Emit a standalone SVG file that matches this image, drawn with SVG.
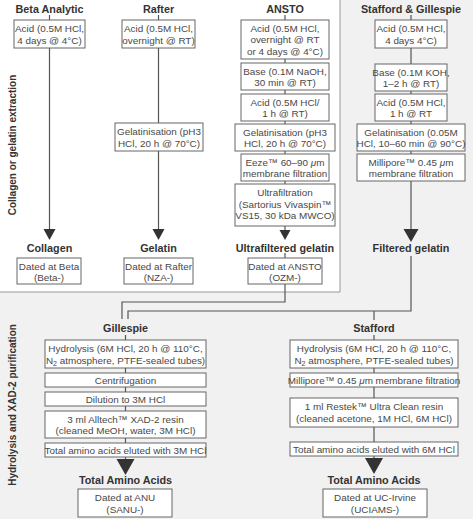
<svg xmlns="http://www.w3.org/2000/svg" width="474" height="522" viewBox="0 0 474 522">
<style>
.bx{fill:#fff;stroke:#666;stroke-width:1}
.t{font-family:"Liberation Sans",Arial,sans-serif;font-size:9.9px;fill:#484848;text-anchor:middle}
.h{font-family:"Liberation Sans",Arial,sans-serif;font-size:10.8px;font-weight:bold;fill:#333;text-anchor:middle}
.side{font-family:"Liberation Sans",Arial,sans-serif;font-size:10px;font-weight:bold;fill:#333;text-anchor:middle}
.ln{fill:none;stroke:#555;stroke-width:1.2}
.ah{fill:#333;stroke:none}
.it{font-style:italic}
</style>
<rect x="0" y="0" width="473" height="519" fill="#f1f1f1"/>
<rect x="0" y="0" width="340" height="292" fill="#fff"/>
<path d="M340 0 V292 H0" fill="none" stroke="#999" stroke-width="1"/>
<text class="side" transform="translate(15.5 145) rotate(-90)">Collagen or gelatin extraction</text>
<text class="side" transform="translate(15.5 405) rotate(-90)">Hydrolysis and XAD-2 purification</text>

<g id="connectors">
<path class="ln" d="M49.5 15 V20 M49.5 48 V229"/>
<path class="ah" d="M43.5 229 H55.5 L49.5 240 Z"/>
<path class="ln" d="M158.5 15 V20 M158.5 48 V123 M158.5 151 V229"/>
<path class="ah" d="M152.5 229 H164.5 L158.5 240 Z"/>
<path class="ln" d="M285 15 V20 M285 59 V63 M285 90 V94 M285 121 V124 M285 151 V154 M285 181 V184 M285 226 V230"/>
<path class="ah" d="M279.5 230 H290.5 L285 240 Z"/>
<path class="ln" d="M285 253 V258"/>
<path class="ln" d="M411 15 V20 M411 48 V64 M411 91 V94 M411 121 V124 M411 151 V154 M411 181 V229"/>
<path class="ah" d="M403.5 229 H418.5 L411 242 Z"/>
<path class="ln" d="M285 284 V302 H122 V319"/>
<path class="ln" d="M411 256 V311 H128 V319 M374 311 V320"/>
<path class="ln" d="M125.5 335 V340 M125.5 368 V373 M125.5 387 V392 M125.5 406 V411 M125.5 438 V443 M125.5 457 V459"/>
<path class="ah" d="M116.5 459 H134.5 L125.5 475 Z"/>
<path class="ln" d="M374 335 V340 M374 368 V373 M374 387 V398 M374 427 V442 M374 456 V458"/>
<path class="ah" d="M365 458 H383 L374 474 Z"/>
</g>

<g id="beta">
<text class="h" x="49.5" y="12.5">Beta Analytic</text>
<rect class="bx" x="14" y="20" width="71" height="28"/>
<text class="t" x="49.5" y="32">Acid (0.5M HCl,</text>
<text class="t" x="49.5" y="43.5">4 days @ 4°C)</text>
<text class="h" x="49.5" y="252">Collagen</text>
<rect class="bx" x="17" y="258" width="64" height="26"/>
<text class="t" x="49" y="269.5">Dated at Beta</text>
<text class="t" x="49" y="281">(Beta-)</text>
</g>

<g id="rafter">
<text class="h" x="158.5" y="12.5">Rafter</text>
<rect class="bx" x="122" y="20" width="73" height="28"/>
<text class="t" x="158.5" y="32">Acid (0.5M HCl,</text>
<text class="t" x="158.5" y="43.5">overnight @ RT)</text>
<rect class="bx" x="115" y="123" width="88" height="28"/>
<text class="t" x="159" y="135">Gelatinisation (pH3</text>
<text class="t" x="159" y="146.5">HCl, 20 h @ 70°C)</text>
<text class="h" x="158.5" y="252">Gelatin</text>
<rect class="bx" x="124" y="258" width="69" height="26"/>
<text class="t" x="158.5" y="269.5">Dated at Rafter</text>
<text class="t" x="158.5" y="281">(NZA-)</text>
</g>

<g id="ansto">
<text class="h" x="285" y="12.5">ANSTO</text>
<rect class="bx" x="241" y="20" width="88" height="39"/>
<text class="t" x="285" y="31.5">Acid (0.5M HCl,</text>
<text class="t" x="285" y="43">overnight @ RT</text>
<text class="t" x="285" y="54.5">or 4 days @ 4°C)</text>
<rect class="bx" x="241" y="63" width="88" height="27"/>
<text class="t" x="285" y="74.5">Base (0.1M NaOH,</text>
<text class="t" x="285" y="86">30 min @ RT)</text>
<rect class="bx" x="241" y="94" width="88" height="27"/>
<text class="t" x="285" y="105.5">Acid (0.5M HCl/</text>
<text class="t" x="285" y="117">1 h @ RT)</text>
<rect class="bx" x="235" y="124" width="100" height="27"/>
<text class="t" x="285" y="135.5">Gelatinisation (pH3</text>
<text class="t" x="285" y="147">HCl, 20 h @ 70°C)</text>
<rect class="bx" x="241" y="154" width="88" height="27"/>
<text class="t" x="285" y="165.5">Eeze™ 60–90 <tspan class="it">μ</tspan>m</text>
<text class="t" x="285" y="177">membrane filtration</text>
<rect class="bx" x="235" y="184" width="100" height="42"/>
<text class="t" x="285" y="196">Ultrafiltration</text>
<text class="t" x="285" y="207.5">(Sartorius Vivaspin™</text>
<text class="t" x="285" y="219">VS15, 30 kDa MWCO)</text>
<text class="h" x="285" y="252">Ultrafiltered gelatin</text>
<rect class="bx" x="248" y="258" width="74" height="26"/>
<text class="t" x="285" y="269.5">Dated at ANSTO</text>
<text class="t" x="285" y="281">(OZM-)</text>
</g>

<g id="stafford-gillespie">
<text class="h" x="411" y="12.5">Stafford &amp; Gillespie</text>
<rect class="bx" x="375" y="20" width="72" height="28"/>
<text class="t" x="411" y="32">Acid (0.5M HCl,</text>
<text class="t" x="411" y="43.5">4 days 4°C)</text>
<rect class="bx" x="375" y="64" width="72" height="27"/>
<text class="t" x="411" y="75.5">Base (0.1M KOH,</text>
<text class="t" x="411" y="87">1–2 h @  RT)</text>
<rect class="bx" x="375" y="94" width="72" height="27"/>
<text class="t" x="411" y="105.5">Acid (0.5M HCl,</text>
<text class="t" x="411" y="117">1 h @ RT</text>
<rect class="bx" x="357" y="124" width="108" height="27"/>
<text class="t" x="411" y="135.5">Gelatinisation (0.05M</text>
<text class="t" x="411" y="147">HCl, 10–60 min @ 90°C)</text>
<rect class="bx" x="357" y="154" width="108" height="27"/>
<text class="t" x="411" y="165.5">Millipore™ 0.45 <tspan class="it">μ</tspan>m</text>
<text class="t" x="411" y="177">membrane filtration</text>
<text class="h" x="411" y="252">Filtered gelatin</text>
</g>

<g id="gillespie">
<text class="h" x="125.5" y="332">Gillespie</text>
<rect class="bx" x="45" y="340" width="161" height="28"/>
<text class="t" x="125.5" y="352">Hydrolysis (6M HCl, 20 h @ 110°C,</text>
<text class="t" x="125.5" y="363.5">N<tspan font-size="7" dy="2">2</tspan><tspan dy="-2"> atmosphere, PTFE-sealed tubes)</tspan></text>
<rect class="bx" x="45" y="373" width="161" height="14"/>
<text class="t" x="125.5" y="383.5">Centrifugation</text>
<rect class="bx" x="45" y="392" width="161" height="14"/>
<text class="t" x="125.5" y="402.5">Dilution to 3M HCl</text>
<rect class="bx" x="45" y="411" width="161" height="27"/>
<text class="t" x="125.5" y="422.5">3 ml Alltech™ XAD-2 resin</text>
<text class="t" x="125.5" y="434">(cleaned MeOH, water, 3M HCl)</text>
<rect class="bx" x="45" y="443" width="161" height="14"/>
<text class="t" x="125.5" y="453.5">Total amino acids eluted with 3M HCl</text>
<text class="h" x="125.5" y="484">Total Amino Acids</text>
<rect class="bx" x="78" y="489" width="94" height="28"/>
<text class="t" x="125" y="501">Dated at ANU</text>
<text class="t" x="125" y="512.5">(SANU-)</text>
</g>

<g id="stafford">
<text class="h" x="374" y="332">Stafford</text>
<rect class="bx" x="290" y="340" width="168" height="28"/>
<text class="t" x="374" y="352">Hydrolysis (6M HCl, 20 h @ 110°C,</text>
<text class="t" x="374" y="363.5">N<tspan font-size="7" dy="2">2</tspan><tspan dy="-2"> atmosphere, PTFE-sealed tubes)</tspan></text>
<rect class="bx" x="290" y="373" width="168" height="14"/>
<text class="t" x="374" y="383.5">Millipore™ 0.45 <tspan class="it">μ</tspan>m membrane filtration</text>
<rect class="bx" x="290" y="398" width="168" height="29"/>
<text class="t" x="374" y="410">1 ml Restek™ Ultra Clean resin</text>
<text class="t" x="374" y="421.5">(cleaned acetone, 1M HCl, 6M HCl)</text>
<rect class="bx" x="290" y="442" width="168" height="14"/>
<text class="t" x="374" y="452.5">Total amino acids eluted with 6M HCl</text>
<text class="h" x="374" y="484">Total Amino Acids</text>
<rect class="bx" x="323" y="489" width="104" height="28"/>
<text class="t" x="375" y="501">Dated at UC-Irvine</text>
<text class="t" x="375" y="512.5">(UCIAMS-)</text>
</g>
</svg>
